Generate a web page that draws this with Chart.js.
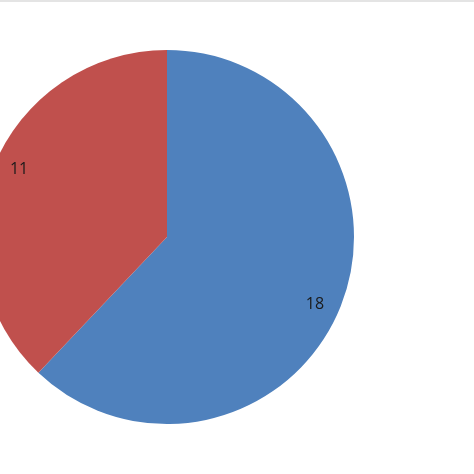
<!DOCTYPE html>
<html>
<head>
<meta charset="utf-8">
<script src="https://cdn.jsdelivr.net/npm/chart.js@4.4.0/dist/chart.umd.min.js"></script>
<style>
    html, body {
        margin: 0;
        padding: 0;
        background: #fff;
        overflow: hidden;
    }
    .top-line {
        position: absolute;
        left: 0;
        top: 0;
        width: 474px;
        height: 2px;
        background: #e4e4e4;
    }
    .chart-box {
        position: absolute;
        left: -20px;
        top: 0;
        width: 374px;
        height: 474px;
    }
</style>
</head>
<body>
<div class="top-line"></div>
<div class="chart-box">
    <canvas id="pieChart"></canvas>
</div>
<script>
const categories = ['A', 'B'];

const seriesValues = [18, 11];

const sliceColors = ['#4f81bd', '#c0504d'];

// draws the value inside each slice, like the original labels
const sliceLabels = {

    id: 'sliceLabels',

    afterDatasetsDraw(chart) {

        const ctx = chart.ctx;
        const meta = chart.getDatasetMeta(0);

        ctx.save();
        ctx.font = '16px "Open Sans", sans-serif';
        ctx.fillStyle = '#1a1a1a';
        ctx.textAlign = 'center';
        ctx.textBaseline = 'middle';

        meta.data.forEach((arc, i) => {
            // labels sit a little clockwise of the slice middle
            const mid = (arc.startAngle + arc.endAngle) / 2 + 0.05;
            const r = arc.outerRadius * 0.87;
            const x = arc.x + Math.cos(mid) * r;
            const y = arc.y + Math.sin(mid) * r;
            ctx.fillText(String(seriesValues[i]), x, y);
        });

        ctx.restore();
    }
};

new Chart(document.getElementById('pieChart'), {

    type: 'pie',

    data: {
        labels: categories,
        datasets: [{
                data: seriesValues,
                backgroundColor: sliceColors,
                borderWidth: 0
            }]
    },

    options: {
        responsive: true,
        maintainAspectRatio: false,
        animation: false,
        layout: {
            padding: {
                top: 50,
                bottom: 50,
                left: 0,
                right: 0
            }
        },
        plugins: {
            legend: {
                display: false
            },
            tooltip: {
                enabled: false
            }
        }
    },

    plugins: [sliceLabels]
});
</script>
</body>
</html>
